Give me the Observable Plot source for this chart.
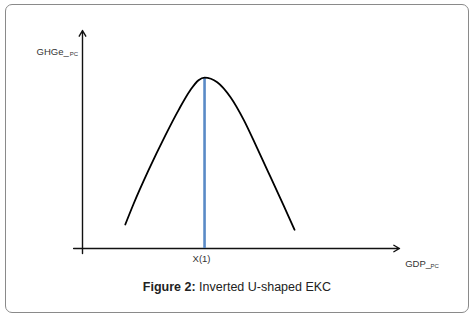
<!DOCTYPE html>
<html>
<head>
<meta charset="utf-8">
<script src="https://cdn.jsdelivr.net/npm/d3@7"></script>
<script src="https://cdn.jsdelivr.net/npm/@observablehq/plot@0.6"></script>
<style>
  html, body { margin: 0; padding: 0; background: #fff; }
  body { width: 474px; height: 316px; position: relative; overflow: hidden; font-family: "Liberation Sans", Arial, sans-serif; }
  #frame { position: absolute; left: 5px; top: 4px; width: 462px; height: 307px; border: 1.5px solid #8a8a8a; border-radius: 7px; box-sizing: content-box; }
  #chart { position: absolute; left: 0; top: 0; }
  #caption { position: absolute; left: 0; width: 474px; top: 280px; text-align: center; font-size: 12.5px; color: #222; }
  #caption b { font-weight: bold; }
</style>
</head>
<body>
<div id="frame"></div>
<div id="chart"></div>
<div id="caption"><b>Figure 2:</b> Inverted U-shaped EKC</div>
<script>
// Curve points (GDP per capita vs GHG emissions per capita, arbitrary units)
const gdp = [1.35, 1.61, 2.08, 2.61, 3.03, 3.40, 3.66, 3.85, 4.25, 4.67, 5.09, 5.51, 5.93, 6.35, 6.69];
const ghg = [1.10, 2.04, 3.58, 5.18, 6.35, 7.26, 7.72, 7.84, 7.63, 6.94, 5.89, 4.60, 3.28, 1.95, 0.86];

// Turning point
const turningX = [3.85];
const turningY = [7.84];
const turningLabel = ["X(1)"];

// Axis extents
const xAxisExtent = [-0.28, 10];
const yAxisExtent = [-0.23, 10];

// Axis titles
const xTitle = ["GDP_", "PC"];
const yTitle = ["GHGe_", "PC"];

const curve = gdp.map((g, i) => ({gdp: g, ghg: ghg[i]}));

const plot = Plot.plot({
  width: 474,
  height: 276,
  margin: 0,
  x: {type: "linear", domain: [0, 10], range: [82, 399], axis: null},
  y: {type: "linear", domain: [0, 10], range: [248, 30], axis: null},
  style: {fontFamily: "'Liberation Sans', Arial, sans-serif", background: "transparent"},
  marks: [
    Plot.arrow([0], {x1: xAxisExtent[0], y1: 0, x2: xAxisExtent[1], y2: 0, stroke: "#111", strokeWidth: 1.4, headLength: 7, headAngle: 60}),
    Plot.arrow([0], {x1: 0, y1: yAxisExtent[0], x2: 0, y2: yAxisExtent[1], stroke: "#111", strokeWidth: 1.4, headLength: 7, headAngle: 60}),
    Plot.ruleX(turningX.map((x, i) => ({x, y: turningY[i]})), {x: "x", y1: 0, y2: "y", stroke: "#5a8ac6", strokeWidth: 2.6}),
    Plot.line(curve, {x: "gdp", y: "ghg", curve: "monotone-x", stroke: "#000", strokeWidth: 1.8}),
    Plot.text(turningX.map((x, i) => ({x, label: turningLabel[i]})), {x: "x", y: 0, text: "label", dy: 10, dx: -3, fontSize: 9.5, fill: "#333"}),
    Plot.text([xTitle[0]], {x: 10.18, y: -0.73, text: d => d, textAnchor: "start", fontSize: 9.5, fill: "#333"}),
    Plot.text([xTitle[1]], {x: 10.98, y: -0.73, text: d => d, textAnchor: "start", fontSize: 6, dy: 1.5, fill: "#333"}),
    Plot.text([yTitle[0]], {x: -1.45, y: 9.0, text: d => d, textAnchor: "start", fontSize: 9.5, fill: "#333"}),
    Plot.text([yTitle[1]], {x: -0.4, y: 9.0, text: d => d, textAnchor: "start", fontSize: 6, dy: 1.5, fill: "#333"})
  ]
});
document.getElementById("chart").appendChild(plot);
</script>
</body>
</html>
